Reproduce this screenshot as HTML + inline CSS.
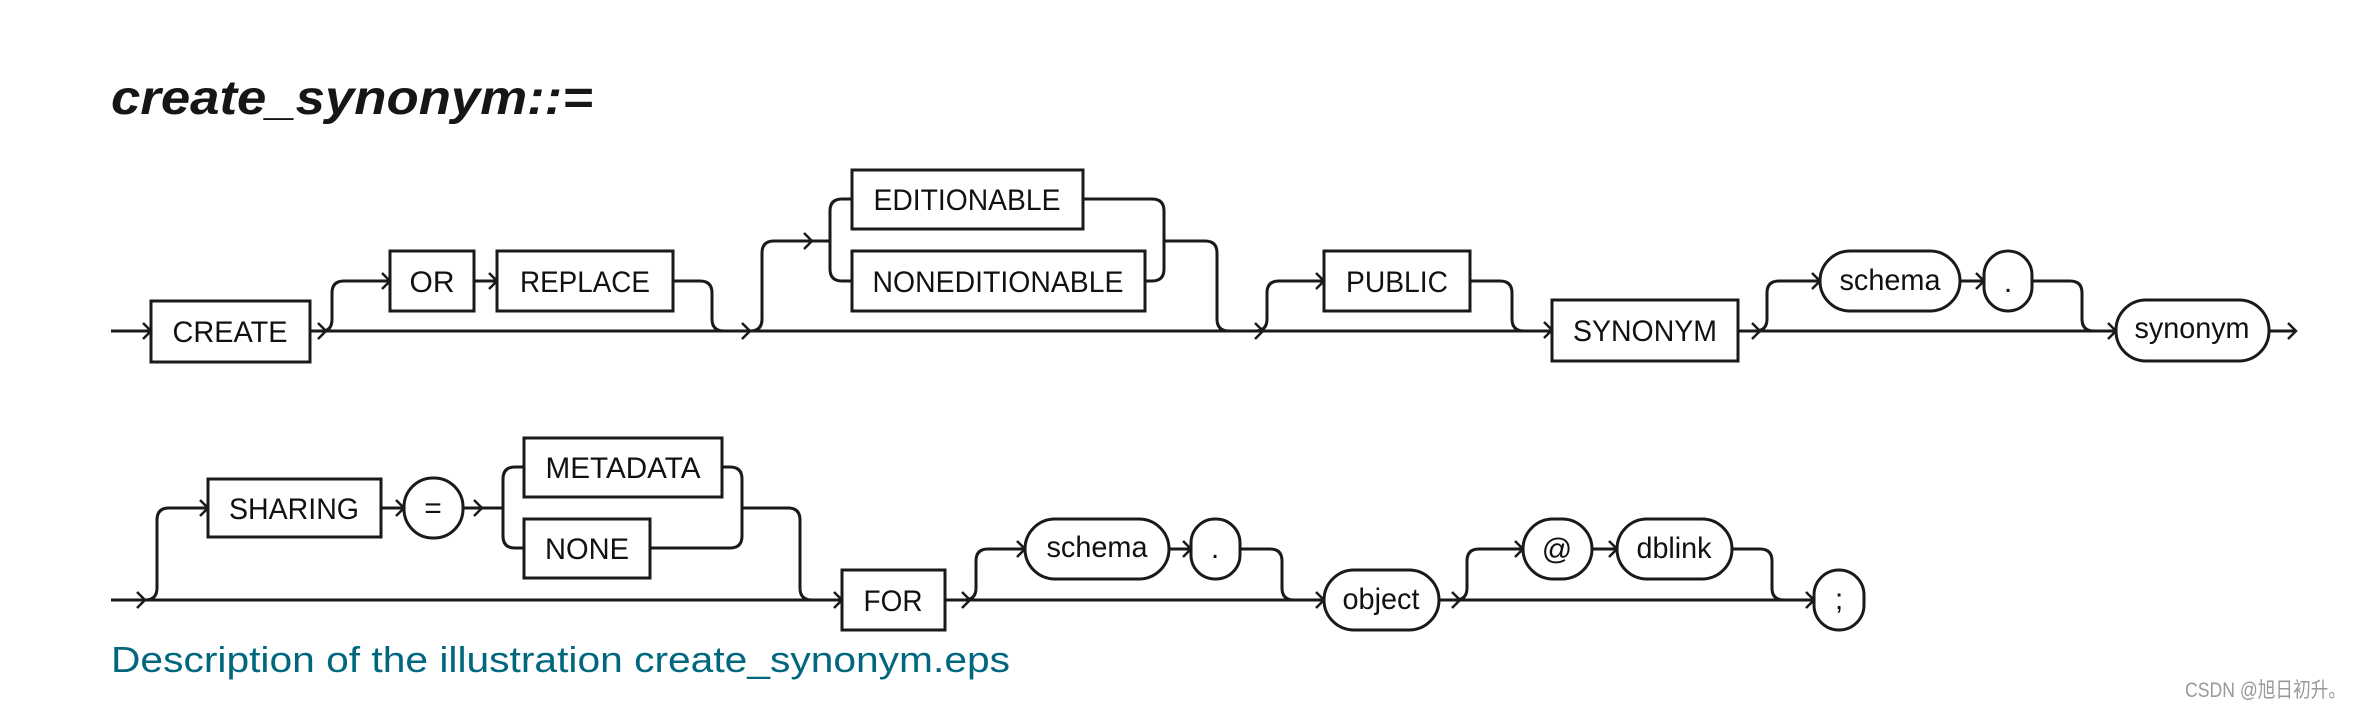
<!DOCTYPE html>
<html><head><meta charset="utf-8"><style>
html,body{margin:0;padding:0;background:#fff;}
svg{display:block;}
</style></head><body>
<svg width="2360" height="706" viewBox="0 0 2360 706" xmlns="http://www.w3.org/2000/svg">
<text x="111" y="114" font-family="Liberation Sans, sans-serif" font-weight="bold" font-style="italic" font-size="48" fill="#161616" textLength="482" lengthAdjust="spacingAndGlyphs">create_synonym::=</text>

<g fill="none" stroke="#1a1a1a" stroke-width="3">
<!-- row 1 -->
<path d="M111 331 H151"/>
<rect x="151" y="301" width="159" height="61"/>
<path d="M310 331 H1552"/>
<path d="M322 331 q10 0 10 -12 V293 q0 -12 12 -12 H390"/>
<rect x="390" y="251" width="84" height="60"/>
<path d="M474 281 H497"/>
<rect x="497" y="251" width="176" height="60"/>
<path d="M673 281 H700 q12 0 12 12 V319 q0 12 12 12"/>
<path d="M750 331 q12 0 12 -12 V253 q0 -12 12 -12 H830"/>
<path d="M852 199 H842 q-12 0 -12 12 V269 q0 12 12 12 H852"/>
<rect x="852" y="170" width="231" height="59"/>
<rect x="852" y="251" width="293" height="60"/>
<path d="M1083 199 H1152 q12 0 12 12 V269 q0 12 -12 12 H1145"/>
<path d="M1164 241 H1205 q12 0 12 12 V319 q0 12 12 12"/>
<path d="M1255 331 q12 0 12 -12 V293 q0 -12 12 -12 H1324"/>
<rect x="1324" y="251" width="146" height="60"/>
<path d="M1470 281 H1500 q12 0 12 12 V319 q0 12 12 12"/>
<rect x="1552" y="300" width="186" height="61"/>
<path d="M1738 331 H2116"/>
<path d="M1755 331 q12 0 12 -12 V293 q0 -12 12 -12 H1820"/>
<rect x="1820" y="251" width="140" height="60" rx="30"/>
<path d="M1960 281 H1984"/>
<rect x="1984" y="251" width="48" height="60" rx="24"/>
<path d="M2032 281 H2070 q12 0 12 12 V319 q0 12 12 12"/>
<rect x="2116" y="300" width="153" height="61" rx="30"/>
<path d="M2269 331 H2295"/>

<!-- row 2 -->
<path d="M111 600 H842"/>
<path d="M145 600 q12 0 12 -12 V520 q0 -12 12 -12 H208"/>
<rect x="208" y="479" width="173" height="58"/>
<path d="M381 508 H404"/>
<rect x="404" y="478" width="59" height="60" rx="29"/>
<path d="M463 508 H503"/>
<path d="M524 467 H515 q-12 0 -12 12 V536 q0 12 12 12 H524"/>
<rect x="524" y="438" width="198" height="59"/>
<rect x="524" y="519" width="126" height="59"/>
<path d="M722 467 H730 q12 0 12 12 V536 q0 12 -12 12 H650"/>
<path d="M742 508 H788 q12 0 12 12 V588 q0 12 12 12 H842"/>
<rect x="842" y="570" width="103" height="60"/>
<path d="M945 600 H1324"/>
<path d="M964 600 q12 0 12 -12 V561 q0 -12 12 -12 H1025"/>
<rect x="1025" y="519" width="144" height="60" rx="30"/>
<path d="M1169 549 H1191"/>
<rect x="1191" y="519" width="49" height="60" rx="24"/>
<path d="M1240 549 H1270 q12 0 12 12 V588 q0 12 12 12"/>
<rect x="1324" y="570" width="115" height="60" rx="30"/>
<path d="M1439 600 H1814"/>
<path d="M1455 600 q12 0 12 -12 V561 q0 -12 12 -12 H1523"/>
<rect x="1523" y="519" width="69" height="60" rx="30"/>
<path d="M1592 549 H1617"/>
<rect x="1617" y="519" width="115" height="60" rx="30"/>
<path d="M1732 549 H1760 q12 0 12 12 V588 q0 12 12 12"/>
<rect x="1814" y="570" width="50" height="60" rx="25"/>
</g>

<!-- arrowheads -->
<g fill="none" stroke="#1a1a1a" stroke-width="2.5">
<path d="M143 323 L151 331 L143 339"/>
<path d="M318 323 L326 331 L318 339"/>
<path d="M382 273 L390 281 L382 289"/>
<path d="M489 273 L497 281 L489 289"/>
<path d="M742 323 L750 331 L742 339"/>
<path d="M804 233 L812 241 L804 249"/>
<path d="M1255 323 L1263 331 L1255 339"/>
<path d="M1316 273 L1324 281 L1316 289"/>
<path d="M1544 322 L1552 330 L1544 338"/>
<path d="M1752 323 L1760 331 L1752 339"/>
<path d="M1812 273 L1820 281 L1812 289"/>
<path d="M1976 273 L1984 281 L1976 289"/>
<path d="M2108 323 L2116 331 L2108 339"/>
<path d="M2288 323 L2296 331 L2288 339"/>
<path d="M137 592 L145 600 L137 608"/>
<path d="M200 500 L208 508 L200 516"/>
<path d="M396 500 L404 508 L396 516"/>
<path d="M474 500 L482 508 L474 516"/>
<path d="M834 592 L842 600 L834 608"/>
<path d="M962 592 L970 600 L962 608"/>
<path d="M1017 541 L1025 549 L1017 557"/>
<path d="M1183 541 L1191 549 L1183 557"/>
<path d="M1316 592 L1324 600 L1316 608"/>
<path d="M1452 592 L1460 600 L1452 608"/>
<path d="M1515 541 L1523 549 L1515 557"/>
<path d="M1609 541 L1617 549 L1609 557"/>
<path d="M1806 592 L1814 600 L1806 608"/>
</g>

<g font-family="Liberation Sans, sans-serif" font-size="30" fill="#111" text-anchor="middle" lengthAdjust="spacingAndGlyphs">
<text x="230" y="342" textLength="115" lengthAdjust="spacingAndGlyphs">CREATE</text>
<text x="432" y="292" textLength="45" lengthAdjust="spacingAndGlyphs">OR</text>
<text x="585" y="292" textLength="130" lengthAdjust="spacingAndGlyphs">REPLACE</text>
<text x="967" y="210" textLength="187" lengthAdjust="spacingAndGlyphs">EDITIONABLE</text>
<text x="998" y="292" textLength="251" lengthAdjust="spacingAndGlyphs">NONEDITIONABLE</text>
<text x="1397" y="292" textLength="102" lengthAdjust="spacingAndGlyphs">PUBLIC</text>
<text x="1645" y="341" textLength="144" lengthAdjust="spacingAndGlyphs">SYNONYM</text>
<text x="1890" y="290" textLength="101" lengthAdjust="spacingAndGlyphs">schema</text>
<text x="2008" y="292">.</text>
<text x="2192" y="338" textLength="115" lengthAdjust="spacingAndGlyphs">synonym</text>
<text x="294" y="519" textLength="130" lengthAdjust="spacingAndGlyphs">SHARING</text>
<text x="433" y="518">=</text>
<text x="623" y="478" textLength="155" lengthAdjust="spacingAndGlyphs">METADATA</text>
<text x="587" y="559" textLength="84" lengthAdjust="spacingAndGlyphs">NONE</text>
<text x="893" y="611" textLength="59" lengthAdjust="spacingAndGlyphs">FOR</text>
<text x="1097" y="557" textLength="101" lengthAdjust="spacingAndGlyphs">schema</text>
<text x="1215" y="558">.</text>
<text x="1381" y="609" textLength="77" lengthAdjust="spacingAndGlyphs">object</text>
<text x="1557" y="559">@</text>
<text x="1674" y="558" textLength="75" lengthAdjust="spacingAndGlyphs">dblink</text>
<text x="1839" y="609">;</text>
</g>

<text x="111" y="672" font-family="Liberation Sans, sans-serif" font-size="36" fill="#00677f" textLength="899" lengthAdjust="spacingAndGlyphs">Description of the illustration create_synonym.eps</text>
<text x="2185" y="697" font-family="Liberation Sans, 'Noto Sans CJK SC', sans-serif" font-size="21" fill="#999" textLength="161" lengthAdjust="spacingAndGlyphs">CSDN @旭日初升。</text>
</svg>
</body></html>
